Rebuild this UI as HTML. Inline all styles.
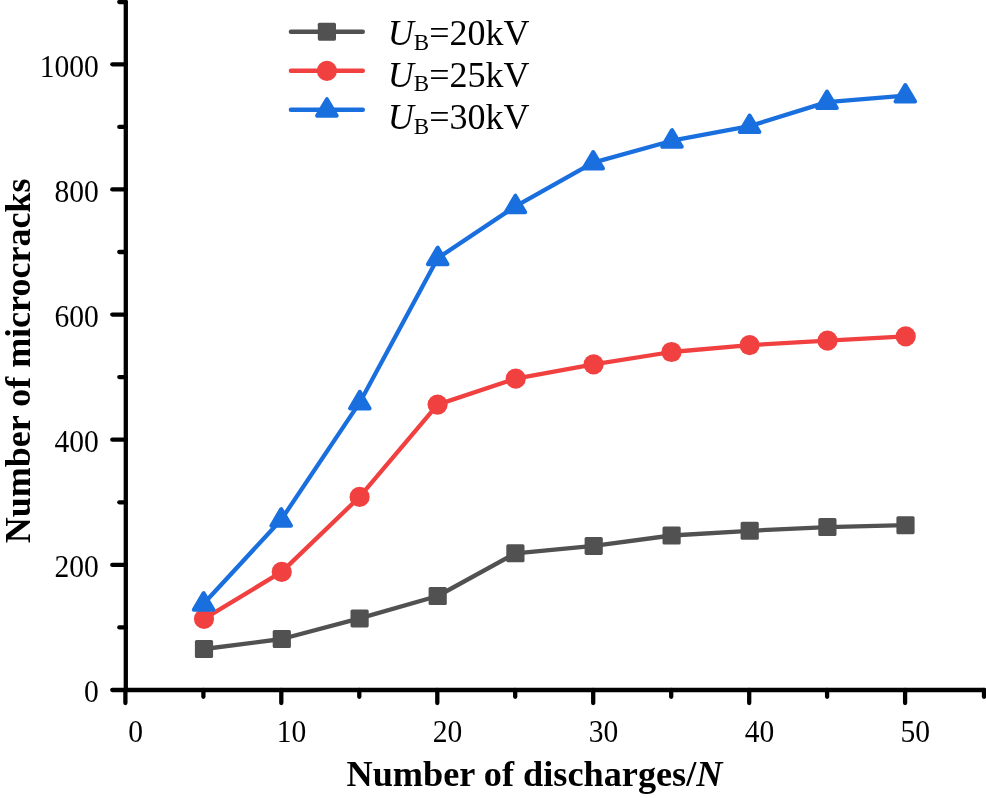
<!DOCTYPE html>
<html lang="en">
<head>
<meta charset="utf-8">
<title>Number of microcracks vs number of discharges</title>
<style>
html,body{margin:0;padding:0;background:#fff;}
svg{display:block;}
text{font-family:"Liberation Serif","Times New Roman",serif;fill:#000;}
.tk{font-size:30px;}
.ttl{font-size:36px;font-weight:bold;}
.lg{font-size:36px;}
</style>
</head>
<body>
<svg width="986" height="798" viewBox="0 0 986 798">
<rect width="986" height="798" fill="#fff"/>
<g stroke="#000" stroke-width="4.3" stroke-linecap="round" fill="none">
<line x1="125.8" y1="2" x2="125.8" y2="690.0"/>
<line x1="125.8" y1="690.0" x2="984" y2="690.0"/>
<line x1="125.8" y1="690.0" x2="112.3" y2="690.0"/>
<line x1="125.8" y1="627.4" x2="119.3" y2="627.4"/>
<line x1="125.8" y1="564.9" x2="112.3" y2="564.9"/>
<line x1="125.8" y1="502.3" x2="119.3" y2="502.3"/>
<line x1="125.8" y1="439.7" x2="112.3" y2="439.7"/>
<line x1="125.8" y1="377.1" x2="119.3" y2="377.1"/>
<line x1="125.8" y1="314.6" x2="112.3" y2="314.6"/>
<line x1="125.8" y1="252.0" x2="119.3" y2="252.0"/>
<line x1="125.8" y1="189.4" x2="112.3" y2="189.4"/>
<line x1="125.8" y1="126.9" x2="119.3" y2="126.9"/>
<line x1="125.8" y1="64.3" x2="112.3" y2="64.3"/>
<line x1="125.8" y1="2.0" x2="119.3" y2="2.0"/>
<line x1="125.4" y1="690.0" x2="125.4" y2="703.0"/>
<line x1="203.4" y1="690.0" x2="203.4" y2="696.8"/>
<line x1="281.3" y1="690.0" x2="281.3" y2="703.0"/>
<line x1="359.3" y1="690.0" x2="359.3" y2="696.8"/>
<line x1="437.3" y1="690.0" x2="437.3" y2="703.0"/>
<line x1="515.2" y1="690.0" x2="515.2" y2="696.8"/>
<line x1="593.2" y1="690.0" x2="593.2" y2="703.0"/>
<line x1="671.2" y1="690.0" x2="671.2" y2="696.8"/>
<line x1="749.2" y1="690.0" x2="749.2" y2="703.0"/>
<line x1="827.1" y1="690.0" x2="827.1" y2="696.8"/>
<line x1="905.1" y1="690.0" x2="905.1" y2="703.0"/>
<line x1="984.0" y1="690.0" x2="984.0" y2="696.8"/>
</g>
<g class="tk" text-anchor="end">
<text transform="translate(98.7,702.3) scale(0.985,1.03)">0</text>
<text transform="translate(98.7,577.2) scale(0.985,1.03)">200</text>
<text transform="translate(98.7,452.0) scale(0.985,1.03)">400</text>
<text transform="translate(98.7,326.9) scale(0.985,1.03)">600</text>
<text transform="translate(98.7,201.7) scale(0.985,1.03)">800</text>
<text transform="translate(98.7,76.6) scale(0.985,1.03)">1000</text>
</g>
<g class="tk" text-anchor="middle">
<text transform="translate(135.6,742.2) scale(0.985,1.03)">0</text>
<text transform="translate(291.5,742.2) scale(0.985,1.03)">10</text>
<text transform="translate(447.5,742.2) scale(0.985,1.03)">20</text>
<text transform="translate(603.4,742.2) scale(0.985,1.03)">30</text>
<text transform="translate(759.4,742.2) scale(0.985,1.03)">40</text>
<text transform="translate(915.3,742.2) scale(0.985,1.03)">50</text>
</g>
<text class="ttl" style="font-size:36.25px" text-anchor="middle" x="534.5" y="785.8">Number of discharges/<tspan font-style="italic">N</tspan></text>
<text class="ttl" text-anchor="middle" transform="translate(29.8,360.9) rotate(-90)">Number of microcracks</text>
<polyline points="204,649 281.8,639 359.6,618.4 437.7,596 515.4,553.3 593.7,545.9 671.6,535.5 749.7,530.8 827.4,527.1 905.5,525.2" fill="none" stroke="#515151" stroke-width="4.3" stroke-linejoin="round"/>
<rect x="194.9" y="640.0" width="18.2" height="18" rx="1.6" fill="#515151"/>
<rect x="272.7" y="630.0" width="18.2" height="18" rx="1.6" fill="#515151"/>
<rect x="350.5" y="609.4" width="18.2" height="18" rx="1.6" fill="#515151"/>
<rect x="428.6" y="587.0" width="18.2" height="18" rx="1.6" fill="#515151"/>
<rect x="506.3" y="544.3" width="18.2" height="18" rx="1.6" fill="#515151"/>
<rect x="584.6" y="536.9" width="18.2" height="18" rx="1.6" fill="#515151"/>
<rect x="662.5" y="526.5" width="18.2" height="18" rx="1.6" fill="#515151"/>
<rect x="740.6" y="521.8" width="18.2" height="18" rx="1.6" fill="#515151"/>
<rect x="818.3" y="518.1" width="18.2" height="18" rx="1.6" fill="#515151"/>
<rect x="896.4" y="516.2" width="18.2" height="18" rx="1.6" fill="#515151"/>
<polyline points="204,618.8 281.7,571.9 359.6,496.9 437.6,404.6 515.7,378.7 593.6,364.4 671.5,352 749.6,345.1 827.5,340.7 905.7,336.4" fill="none" stroke="#f14040" stroke-width="4.3" stroke-linejoin="round"/>
<circle cx="204" cy="618.8" r="10.1" fill="#f14040"/>
<circle cx="281.7" cy="571.9" r="10.1" fill="#f14040"/>
<circle cx="359.6" cy="496.9" r="10.1" fill="#f14040"/>
<circle cx="437.6" cy="404.6" r="10.1" fill="#f14040"/>
<circle cx="515.7" cy="378.7" r="10.1" fill="#f14040"/>
<circle cx="593.6" cy="364.4" r="10.1" fill="#f14040"/>
<circle cx="671.5" cy="352" r="10.1" fill="#f14040"/>
<circle cx="749.6" cy="345.1" r="10.1" fill="#f14040"/>
<circle cx="827.5" cy="340.7" r="10.1" fill="#f14040"/>
<circle cx="905.7" cy="336.4" r="10.1" fill="#f14040"/>
<polyline points="203.6,603.7 281.2,519.7 359.8,402.4 437.7,258.2 515.4,206.3 593.2,162.6 672,140.7 749.6,126.1 827,102.1 905.3,95.6" fill="none" stroke="#1a6fdf" stroke-width="4.3" stroke-linejoin="round"/>
<polygon points="203.6,593.1 193.8,609.7 213.4,609.7" fill="#1a6fdf" stroke="#1a6fdf" stroke-width="4" stroke-linejoin="round"/>
<polygon points="281.2,509.1 271.4,525.7 291.0,525.7" fill="#1a6fdf" stroke="#1a6fdf" stroke-width="4" stroke-linejoin="round"/>
<polygon points="359.8,391.8 350.0,408.4 369.6,408.4" fill="#1a6fdf" stroke="#1a6fdf" stroke-width="4" stroke-linejoin="round"/>
<polygon points="437.7,247.6 427.9,264.2 447.5,264.2" fill="#1a6fdf" stroke="#1a6fdf" stroke-width="4" stroke-linejoin="round"/>
<polygon points="515.4,195.7 505.6,212.3 525.2,212.3" fill="#1a6fdf" stroke="#1a6fdf" stroke-width="4" stroke-linejoin="round"/>
<polygon points="593.2,152.0 583.4,168.6 603.0,168.6" fill="#1a6fdf" stroke="#1a6fdf" stroke-width="4" stroke-linejoin="round"/>
<polygon points="672.0,130.1 662.2,146.7 681.8,146.7" fill="#1a6fdf" stroke="#1a6fdf" stroke-width="4" stroke-linejoin="round"/>
<polygon points="749.6,115.5 739.8,132.1 759.4,132.1" fill="#1a6fdf" stroke="#1a6fdf" stroke-width="4" stroke-linejoin="round"/>
<polygon points="827.0,91.5 817.2,108.1 836.8,108.1" fill="#1a6fdf" stroke="#1a6fdf" stroke-width="4" stroke-linejoin="round"/>
<polygon points="905.3,85.0 895.5,101.6 915.1,101.6" fill="#1a6fdf" stroke="#1a6fdf" stroke-width="4" stroke-linejoin="round"/>
<line x1="290.9" y1="31.7" x2="362.8" y2="31.7" stroke="#515151" stroke-width="4.4" stroke-linecap="round"/>
<rect x="317.8" y="22.7" width="18.2" height="18" rx="1.6" fill="#515151"/>
<line x1="290.9" y1="70.8" x2="362.8" y2="70.8" stroke="#f14040" stroke-width="4.4" stroke-linecap="round"/>
<circle cx="326.9" cy="70.8" r="10.1" fill="#f14040"/>
<line x1="290.9" y1="109.8" x2="362.8" y2="109.8" stroke="#1a6fdf" stroke-width="4.4" stroke-linecap="round"/>
<polygon points="326.9,99.2 317.1,115.8 336.7,115.8" fill="#1a6fdf" stroke="#1a6fdf" stroke-width="4" stroke-linejoin="round"/>
<text class="lg" x="387.8" y="45.2"><tspan font-style="italic">U</tspan><tspan font-size="23px" dy="4.6">B</tspan><tspan dy="-4.6">=20kV</tspan></text>
<text class="lg" x="387.8" y="86.5"><tspan font-style="italic">U</tspan><tspan font-size="23px" dy="4.6">B</tspan><tspan dy="-4.6">=25kV</tspan></text>
<text class="lg" x="387.8" y="129.1"><tspan font-style="italic">U</tspan><tspan font-size="23px" dy="4.6">B</tspan><tspan dy="-4.6">=30kV</tspan></text>
</svg>
</body>
</html>
